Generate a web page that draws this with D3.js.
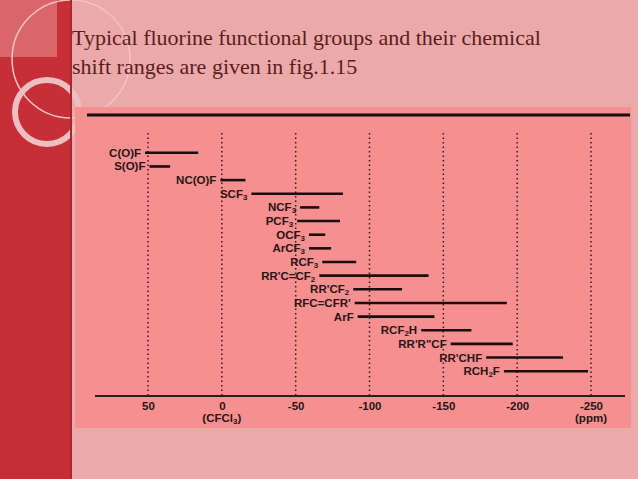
<!DOCTYPE html>
<html><head><meta charset="utf-8">
<script src="https://cdn.jsdelivr.net/npm/d3@7"></script>
<style>body{margin:0;background:#eba9aa;}svg{display:block}</style></head>
<body><svg id="c" width="638" height="479"></svg>
<script>
const groups = ["C(O)F","S(O)F","NC(O)F","SCF_3","NCF_3","PCF_3","OCF_3","ArCF_3","RCF_3","RR'C=CF_2","RR'CF_2","RFC=CFR'","ArF","RCF_2H","RR'R\"CF","RR'CHF","RCH_2F"];
const starts = [52,49,1,-20,-53,-51,-59,-59,-68,-66,-89,-90,-92,-135,-155,-179,-191];
const ends =   [16,35,-16,-82,-66,-80,-70,-74,-91,-140,-122,-193,-144,-169,-197,-231,-248];
const ticks = [50,0,-50,-100,-150,-200,-250];
const tickLabels = ["50","0","-50","-100","-150","-200","-250"];

const svg = d3.select("#c");
svg.append("rect").attr("width",638).attr("height",479).attr("fill","#eba9aa");
svg.append("rect").attr("width",70).attr("height",479).attr("fill","#c72f38");
svg.append("rect").attr("width",57).attr("height",57).attr("fill","#d9666b");
svg.append("circle").attr("cx",71).attr("cy",59).attr("r",59).attr("fill","none").attr("stroke","#f1c4c4").attr("stroke-width",1.5);
svg.append("circle").attr("cx",47).attr("cy",112).attr("r",32).attr("fill","none").attr("stroke","#ecc0c0").attr("stroke-width",6);
svg.append("rect").attr("x",70).attr("width",2).attr("height",479).attr("fill","#a82830");
const t = svg.append("text").attr("font-family","Liberation Serif").attr("font-size",22).attr("fill","#5a1e1e");
t.append("tspan").attr("x",72).attr("y",45).text("Typical fluorine functional groups and their chemical");
t.append("tspan").attr("x",72).attr("y",74).text("shift ranges are given in fig.1.15");
svg.append("rect").attr("x",75).attr("y",107).attr("width",556).attr("height",321).attr("fill","#f58f90");
svg.append("line").attr("x1",87).attr("x2",630).attr("y1",115).attr("y2",115).attr("stroke","#111").attr("stroke-width",3);

const x = d3.scaleLinear().domain([50,-250]).range([148,591]);
const y = d3.scaleBand().domain(groups).range([146,378]);
const baseY = 396;
const font = s => s.attr("font-family","Liberation Sans").attr("font-weight","bold").attr("font-size",11.5).attr("fill","#2a1414");

svg.selectAll(".grid").data(ticks).join("line")
  .attr("x1",d=>x(d)).attr("x2",d=>x(d)).attr("y1",133).attr("y2",baseY)
  .attr("stroke","#3a1a1a").attr("stroke-width",1.5).attr("stroke-dasharray","1.5,3");

const axis = d3.axisBottom(x).tickValues(ticks).tickFormat((d,i)=>tickLabels[i]).tickSize(0).tickPadding(6);
const ag = svg.append("g").attr("transform",`translate(0,${baseY})`).call(axis);
ag.select(".domain").attr("d",`M95,0H625`).attr("stroke","#222").attr("stroke-width",2);
font(ag.selectAll("text"));

function rich(el, str){
  str.split(/(_\d)/).forEach(p=>{
    if(!p) return;
    if(p[0]==="_") el.append("tspan").attr("font-size",8).attr("baseline-shift","-25%").text(p.slice(1));
    else el.append("tspan").text(p);
  });
}
const c1 = font(svg.append("text").attr("x",x(0)).attr("y",422).attr("text-anchor","middle"));
rich(c1,"(CFCl_3)");
font(svg.append("text").attr("x",x(-250)).attr("y",422).attr("text-anchor","middle")).text("(ppm)");

const rows = groups.map((g,i)=>({g,s:starts[i],e:ends[i]}));
svg.selectAll(".bar").data(rows).join("line")
  .attr("x1",d=>x(d.s)).attr("x2",d=>x(d.e))
  .attr("y1",d=>y(d.g)+y.bandwidth()/2).attr("y2",d=>y(d.g)+y.bandwidth()/2)
  .attr("stroke","#1a0d0d").attr("stroke-width",2.6);
const lab = font(svg.selectAll(".lab").data(rows).join("text")
  .attr("x",d=>x(d.s)-4).attr("y",d=>y(d.g)+y.bandwidth()/2+4)
  .attr("text-anchor","end"));
lab.each(function(d){ rich(d3.select(this), d.g); });
</script></body></html>
